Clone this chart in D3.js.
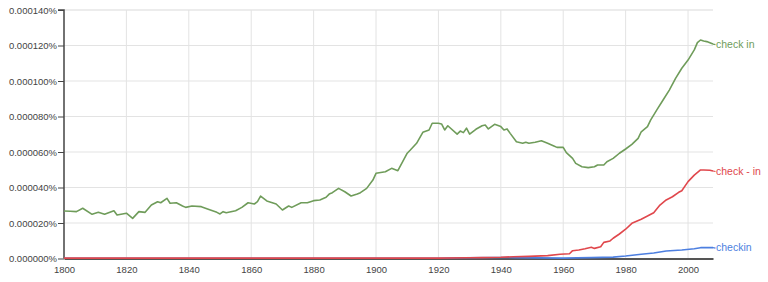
<html>
<head>
<meta charset="utf-8"/>
<style>
  body { margin: 0; background: #fff; }
  svg text { font-family: "Liberation Sans", Arial, Helvetica, sans-serif; }
  .grid line { stroke: #e3e3e3; stroke-width: 1; }
  .axis path, .axis line { stroke: #444; }
  .axis text { fill: #444; font-size: 9.5px; }
</style>
<script src="https://d3js.org/d3.v7.min.js"></script>
</head>
<body>
<svg id="chart" width="768" height="282"></svg>
<script>
// values in units of 0.000001 %
var checkInYears = [1800,1802,1804,1806,1809,1811,1813,1816,1817,1820,1822,1824,1826,1828,1830,1831,1833,1834,1836,1838,1839,1841,1844,1846,1849,1850,1851,1852,1855,1857,1859,1861,1862,1863,1865,1868,1870,1872,1873,1876,1878,1880,1882,1884,1885,1886,1888,1890,1892,1894,1895,1897,1899,1900,1903,1905,1907,1910,1911,1913,1915,1917,1918,1920,1921,1922,1923,1926,1927,1928,1929,1930,1932,1934,1935,1936,1938,1940,1941,1942,1943,1945,1947,1948,1949,1951,1953,1955,1957,1958,1960,1961,1963,1964,1966,1968,1970,1971,1973,1974,1976,1978,1980,1982,1984,1985,1987,1988,1990,1992,1994,1996,1998,2000,2002,2003,2004,2005,2006,2008];
var checkInValues = [26.8,26.6,26.4,28.3,24.9,26.0,24.9,26.9,24.5,25.5,22.6,26.4,26.0,30.1,32.0,31.4,33.9,31.1,31.4,29.6,28.8,29.6,29.2,27.9,26.0,25.1,26.4,25.8,26.9,28.8,31.4,30.7,32.0,35.2,32.4,30.7,27.3,29.6,28.8,31.4,31.4,32.6,33.0,34.5,36.3,37.1,39.5,37.6,35.2,36.3,37.1,39.5,44.2,48.0,48.9,50.8,49.5,59.3,61.1,64.9,71.1,72.4,76.2,76.2,75.8,72.4,74.8,70.1,71.8,70.9,73.4,70.1,72.8,74.8,75.2,73.0,75.6,74.3,72.4,73.0,70.5,65.8,64.9,65.5,64.9,65.5,66.3,64.9,63.4,62.6,62.6,59.6,56.4,53.6,51.7,51.2,51.7,52.7,52.7,54.5,56.4,59.3,61.7,64.3,67.7,71.4,74.3,78.0,83.7,89.3,94.9,101.5,107.2,111.8,117.5,121.6,123.1,122.5,122.2,120.8];

var checkDashInYears = [1800,1920,1930,1934,1940,1944,1949,1955,1959,1962,1963,1965,1967,1969,1970,1972,1973,1975,1976,1978,1980,1982,1985,1987,1989,1991,1993,1995,1997,1998,2000,2002,2004,2005,2007,2008];
var checkDashInValues = [0.2,0.2,0.4,0.5,0.7,1.0,1.2,1.6,2.4,2.7,4.4,4.8,5.5,6.3,5.7,6.6,9.1,9.9,11.4,13.8,16.5,19.8,22.1,23.9,25.8,30.1,33.0,34.8,37.3,38.2,43.3,47.0,49.9,49.9,49.7,49.3];

var checkinYears = [1800,1920,1928,1938,1945,1960,1969,1976,1980,1985,1989,1993,1998,2002,2004,2008];
var checkinValues = [0.1,0.1,0.4,0.6,0.5,0.2,0.5,0.8,1.4,2.4,3.1,4.2,4.8,5.5,6.1,6.1];

var seriesNames = ["checkin", "check - in", "check in"];
var seriesColors = ["#4d7fe0", "#e0474c", "#6f9c5a"];

var xTicks = [1800,1820,1840,1860,1880,1900,1920,1940,1960,1980,2000];
var yTicks = [0,20,40,60,80,100,120,140];
var yTickLabels = ["0.000000%","0.000020%","0.000040%","0.000060%","0.000080%","0.000100%","0.000120%","0.000140%"];

var svg = d3.select("#chart");
var x = d3.scaleLinear().domain([1800, 2008]).range([64, 713]);
var y = d3.scaleLinear().domain([0, 140]).range([258.5, 10]);

// grid
var grid = svg.append("g").attr("class", "grid");
grid.selectAll("line.h").data(yTicks).enter().append("line")
    .attr("class", "h")
    .attr("x1", x(1800)).attr("x2", x(2008))
    .attr("y1", function(d){ return y(d); }).attr("y2", function(d){ return y(d); })
    .style("stroke-width", function(d){ return d == 140 ? 2 : 1; })
    .style("stroke", function(d){ return d == 140 ? "#ececec" : null; });
grid.selectAll("line.v").data(xTicks.slice(1)).enter().append("line")
    .attr("class", "v")
    .attr("x1", function(d){ return x(d); }).attr("x2", function(d){ return x(d); })
    .attr("y1", y(140)).attr("y2", y(0));

// axes
var yAxis = d3.axisLeft(y).tickValues(yTicks).tickSize(6).tickPadding(1)
    .tickFormat(function(d, i){ return yTickLabels[i]; });
svg.append("g").attr("class", "axis").attr("transform", "translate(" + x(1800) + ",0)")
    .call(yAxis)
    .call(function(g){ g.select(".domain").attr("d", "M-6," + y(140) + "H0V" + y(0)).style("stroke-width", 1.5); });

var xAxis = d3.axisBottom(x).tickValues(xTicks).tickSize(0).tickPadding(8).tickFormat(d3.format("d"));
svg.append("g").attr("class", "axis").attr("transform", "translate(0," + y(0) + ")")
    .call(xAxis)
    .call(function(g){ g.select(".domain").style("stroke-width", 2).style("stroke", "#555"); });

// lines
var series = [
  {years: checkinYears, values: checkinValues},
  {years: checkDashInYears, values: checkDashInValues},
  {years: checkInYears, values: checkInValues}
];
var line = d3.line()
    .x(function(d){ return x(d[0]); })
    .y(function(d){ return y(d[1]); });

series.forEach(function(s, i){
  var pts = s.years.map(function(yr, j){ return [yr, s.values[j]]; });
  svg.append("path")
    .attr("d", line(pts))
    .attr("fill", "none")
    .attr("stroke", seriesColors[i])
    .attr("stroke-width", 1.6)
    .attr("stroke-linejoin", "round");
  var last = pts[pts.length - 1];
  svg.append("line")
    .attr("x1", x(last[0])).attr("x2", x(last[0]) + 2.5)
    .attr("y1", y(last[1])).attr("y2", y(last[1]) + 0.5)
    .attr("stroke", seriesColors[i]).attr("stroke-width", 1.2);
  svg.append("text")
    .attr("x", x(last[0]) + 3)
    .attr("y", y(last[1]))
    .attr("dy", "0.35em")
    .style("font-size", "10.5px")
    .style("fill", seriesColors[i])
    .text(seriesNames[i]);
});
</script>
</body>
</html>
